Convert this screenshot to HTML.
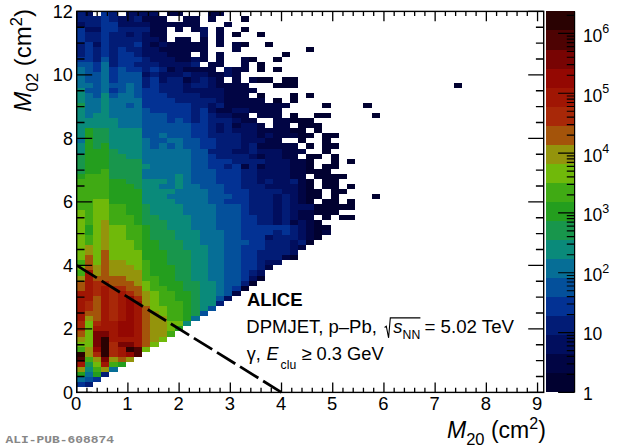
<!DOCTYPE html>
<html><head><meta charset="utf-8"><title>plot</title>
<style>
html,body{margin:0;padding:0;background:#fff;}
body{width:620px;height:448px;overflow:hidden;position:relative;font-family:"Liberation Sans",sans-serif;}
svg{position:absolute;left:0;top:0;}
text{font-family:"Liberation Sans",sans-serif;fill:#000;}
</style></head><body>
<svg width="620" height="448" viewBox="0 0 620 448">
<rect x="0" y="0" width="620" height="448" fill="#fff"/>
<g shape-rendering="crispEdges">
<rect x="76.70" y="382.24" width="8.19" height="5.08" fill="#033294"/>
<rect x="84.89" y="382.24" width="8.19" height="5.08" fill="#021c76"/>
<rect x="76.70" y="377.16" width="8.19" height="5.08" fill="#066e96"/>
<rect x="84.89" y="377.16" width="8.19" height="5.08" fill="#04509b"/>
<rect x="93.09" y="377.16" width="8.19" height="5.08" fill="#033294"/>
<rect x="76.70" y="372.08" width="8.19" height="5.08" fill="#249e1e"/>
<rect x="84.89" y="372.08" width="8.19" height="5.08" fill="#066e96"/>
<rect x="93.09" y="372.08" width="8.19" height="5.08" fill="#249e1e"/>
<rect x="101.28" y="372.08" width="8.19" height="5.08" fill="#021c76"/>
<rect x="76.70" y="367.00" width="8.19" height="5.08" fill="#94940c"/>
<rect x="84.89" y="367.00" width="8.19" height="5.08" fill="#0a8a7a"/>
<rect x="93.09" y="367.00" width="8.19" height="5.08" fill="#40aa14"/>
<rect x="101.28" y="367.00" width="8.19" height="5.08" fill="#94940c"/>
<rect x="109.47" y="367.00" width="8.19" height="5.08" fill="#066e96"/>
<rect x="76.70" y="361.92" width="8.19" height="5.08" fill="#a01604"/>
<rect x="84.89" y="361.92" width="8.19" height="5.08" fill="#18964c"/>
<rect x="93.09" y="361.92" width="8.19" height="5.08" fill="#70b90a"/>
<rect x="101.28" y="361.92" width="8.19" height="5.08" fill="#a01604"/>
<rect x="109.47" y="361.92" width="8.19" height="5.08" fill="#40aa14"/>
<rect x="117.66" y="361.92" width="8.19" height="5.08" fill="#249e1e"/>
<rect x="76.70" y="356.84" width="8.19" height="5.08" fill="#4e0303"/>
<rect x="84.89" y="356.84" width="8.19" height="5.08" fill="#40aa14"/>
<rect x="93.09" y="356.84" width="8.19" height="5.08" fill="#94940c"/>
<rect x="101.28" y="356.84" width="8.19" height="5.08" fill="#780403"/>
<rect x="109.47" y="356.84" width="8.19" height="5.08" fill="#94940c"/>
<rect x="117.66" y="356.84" width="8.19" height="5.08" fill="#a4540a"/>
<rect x="125.86" y="356.84" width="8.19" height="5.08" fill="#94940c"/>
<rect x="76.70" y="351.76" width="8.19" height="5.08" fill="#2a0202"/>
<rect x="84.89" y="351.76" width="8.19" height="5.08" fill="#94940c"/>
<rect x="93.09" y="351.76" width="8.19" height="5.08" fill="#a82808"/>
<rect x="101.28" y="351.76" width="8.19" height="5.08" fill="#2a0202"/>
<rect x="109.47" y="351.76" width="8.19" height="5.08" fill="#a82808"/>
<rect x="117.66" y="351.76" width="8.19" height="5.08" fill="#a01604"/>
<rect x="125.86" y="351.76" width="8.19" height="5.08" fill="#940802"/>
<rect x="134.05" y="351.76" width="8.19" height="5.08" fill="#4e0303"/>
<rect x="76.70" y="346.68" width="8.19" height="5.08" fill="#40aa14"/>
<rect x="84.89" y="346.68" width="8.19" height="5.08" fill="#94940c"/>
<rect x="93.09" y="346.68" width="8.19" height="5.08" fill="#940802"/>
<rect x="101.28" y="346.68" width="8.19" height="5.08" fill="#2a0202"/>
<rect x="109.47" y="346.68" width="8.19" height="5.08" fill="#a82808"/>
<rect x="117.66" y="346.68" width="8.19" height="5.08" fill="#a01604"/>
<rect x="125.86" y="346.68" width="8.19" height="5.08" fill="#2a0202"/>
<rect x="134.05" y="346.68" width="8.19" height="5.08" fill="#4e0303"/>
<rect x="142.24" y="346.68" width="8.19" height="5.08" fill="#70b90a"/>
<rect x="76.70" y="341.60" width="16.39" height="5.08" fill="#70b90a"/>
<rect x="93.09" y="341.60" width="8.19" height="5.08" fill="#780403"/>
<rect x="101.28" y="341.60" width="8.19" height="5.08" fill="#2a0202"/>
<rect x="109.47" y="341.60" width="8.19" height="5.08" fill="#a82808"/>
<rect x="117.66" y="341.60" width="16.39" height="5.08" fill="#780403"/>
<rect x="134.05" y="341.60" width="8.19" height="5.08" fill="#a01604"/>
<rect x="142.24" y="341.60" width="8.19" height="5.08" fill="#a4540a"/>
<rect x="150.44" y="341.60" width="8.19" height="5.08" fill="#70b90a"/>
<rect x="76.70" y="336.52" width="8.19" height="5.08" fill="#94940c"/>
<rect x="84.89" y="336.52" width="8.19" height="5.08" fill="#70b90a"/>
<rect x="93.09" y="336.52" width="8.19" height="5.08" fill="#780403"/>
<rect x="101.28" y="336.52" width="8.19" height="5.08" fill="#2a0202"/>
<rect x="109.47" y="336.52" width="32.77" height="5.08" fill="#a01604"/>
<rect x="142.24" y="336.52" width="8.19" height="5.08" fill="#a4540a"/>
<rect x="150.44" y="336.52" width="8.19" height="5.08" fill="#94940c"/>
<rect x="158.63" y="336.52" width="8.19" height="5.08" fill="#70b90a"/>
<rect x="76.70" y="331.44" width="8.19" height="5.08" fill="#a4540a"/>
<rect x="84.89" y="331.44" width="8.19" height="5.08" fill="#70b90a"/>
<rect x="93.09" y="331.44" width="16.39" height="5.08" fill="#780403"/>
<rect x="109.47" y="331.44" width="8.19" height="5.08" fill="#a01604"/>
<rect x="117.66" y="331.44" width="16.39" height="5.08" fill="#940802"/>
<rect x="134.05" y="331.44" width="8.19" height="5.08" fill="#a01604"/>
<rect x="142.24" y="331.44" width="8.19" height="5.08" fill="#a4540a"/>
<rect x="150.44" y="331.44" width="16.39" height="5.08" fill="#94940c"/>
<rect x="166.82" y="331.44" width="8.19" height="5.08" fill="#40aa14"/>
<rect x="76.70" y="326.36" width="8.19" height="5.08" fill="#a82808"/>
<rect x="84.89" y="326.36" width="8.19" height="5.08" fill="#70b90a"/>
<rect x="93.09" y="326.36" width="24.58" height="5.08" fill="#a01604"/>
<rect x="117.66" y="326.36" width="16.39" height="5.08" fill="#940802"/>
<rect x="134.05" y="326.36" width="8.19" height="5.08" fill="#a01604"/>
<rect x="142.24" y="326.36" width="8.19" height="5.08" fill="#a4540a"/>
<rect x="150.44" y="326.36" width="16.39" height="5.08" fill="#94940c"/>
<rect x="166.82" y="326.36" width="8.19" height="5.08" fill="#70b90a"/>
<rect x="175.02" y="326.36" width="8.19" height="5.08" fill="#249e1e"/>
<rect x="76.70" y="321.28" width="8.19" height="5.08" fill="#a82808"/>
<rect x="84.89" y="321.28" width="8.19" height="5.08" fill="#70b90a"/>
<rect x="93.09" y="321.28" width="8.19" height="5.08" fill="#a82808"/>
<rect x="101.28" y="321.28" width="16.39" height="5.08" fill="#a01604"/>
<rect x="117.66" y="321.28" width="16.39" height="5.08" fill="#940802"/>
<rect x="134.05" y="321.28" width="8.19" height="5.08" fill="#a01604"/>
<rect x="142.24" y="321.28" width="8.19" height="5.08" fill="#a4540a"/>
<rect x="150.44" y="321.28" width="16.39" height="5.08" fill="#94940c"/>
<rect x="166.82" y="321.28" width="16.39" height="5.08" fill="#70b90a"/>
<rect x="183.21" y="321.28" width="8.19" height="5.08" fill="#0a8a7a"/>
<rect x="76.70" y="316.20" width="8.19" height="5.08" fill="#a01604"/>
<rect x="84.89" y="316.20" width="8.19" height="5.08" fill="#94940c"/>
<rect x="93.09" y="316.20" width="8.19" height="5.08" fill="#a4540a"/>
<rect x="101.28" y="316.20" width="8.19" height="5.08" fill="#a01604"/>
<rect x="109.47" y="316.20" width="8.19" height="5.08" fill="#a82808"/>
<rect x="117.66" y="316.20" width="8.19" height="5.08" fill="#a01604"/>
<rect x="125.86" y="316.20" width="8.19" height="5.08" fill="#940802"/>
<rect x="134.05" y="316.20" width="8.19" height="5.08" fill="#a01604"/>
<rect x="142.24" y="316.20" width="8.19" height="5.08" fill="#a4540a"/>
<rect x="150.44" y="316.20" width="16.39" height="5.08" fill="#94940c"/>
<rect x="166.82" y="316.20" width="16.39" height="5.08" fill="#40aa14"/>
<rect x="183.21" y="316.20" width="8.19" height="5.08" fill="#249e1e"/>
<rect x="191.40" y="316.20" width="8.19" height="5.08" fill="#066e96"/>
<rect x="76.70" y="311.12" width="8.19" height="5.08" fill="#a01604"/>
<rect x="84.89" y="311.12" width="16.39" height="5.08" fill="#a4540a"/>
<rect x="101.28" y="311.12" width="8.19" height="5.08" fill="#a01604"/>
<rect x="109.47" y="311.12" width="8.19" height="5.08" fill="#a82808"/>
<rect x="117.66" y="311.12" width="8.19" height="5.08" fill="#a01604"/>
<rect x="125.86" y="311.12" width="8.19" height="5.08" fill="#940802"/>
<rect x="134.05" y="311.12" width="8.19" height="5.08" fill="#a01604"/>
<rect x="142.24" y="311.12" width="8.19" height="5.08" fill="#a4540a"/>
<rect x="150.44" y="311.12" width="8.19" height="5.08" fill="#94940c"/>
<rect x="158.63" y="311.12" width="8.19" height="5.08" fill="#70b90a"/>
<rect x="166.82" y="311.12" width="16.39" height="5.08" fill="#40aa14"/>
<rect x="183.21" y="311.12" width="8.19" height="5.08" fill="#249e1e"/>
<rect x="191.40" y="311.12" width="8.19" height="5.08" fill="#18964c"/>
<rect x="199.59" y="311.12" width="8.19" height="5.08" fill="#04509b"/>
<rect x="76.70" y="306.04" width="8.19" height="5.08" fill="#a01604"/>
<rect x="84.89" y="306.04" width="8.19" height="5.08" fill="#a82808"/>
<rect x="93.09" y="306.04" width="8.19" height="5.08" fill="#a4540a"/>
<rect x="101.28" y="306.04" width="8.19" height="5.08" fill="#a01604"/>
<rect x="109.47" y="306.04" width="8.19" height="5.08" fill="#a82808"/>
<rect x="117.66" y="306.04" width="8.19" height="5.08" fill="#a01604"/>
<rect x="125.86" y="306.04" width="8.19" height="5.08" fill="#940802"/>
<rect x="134.05" y="306.04" width="8.19" height="5.08" fill="#a01604"/>
<rect x="142.24" y="306.04" width="8.19" height="5.08" fill="#a4540a"/>
<rect x="150.44" y="306.04" width="16.39" height="5.08" fill="#70b90a"/>
<rect x="166.82" y="306.04" width="16.39" height="5.08" fill="#40aa14"/>
<rect x="183.21" y="306.04" width="8.19" height="5.08" fill="#249e1e"/>
<rect x="191.40" y="306.04" width="8.19" height="5.08" fill="#18964c"/>
<rect x="199.59" y="306.04" width="8.19" height="5.08" fill="#0a8a7a"/>
<rect x="207.79" y="306.04" width="8.19" height="5.08" fill="#04509b"/>
<rect x="76.70" y="300.96" width="8.19" height="5.08" fill="#a01604"/>
<rect x="84.89" y="300.96" width="8.19" height="5.08" fill="#a82808"/>
<rect x="93.09" y="300.96" width="8.19" height="5.08" fill="#a4540a"/>
<rect x="101.28" y="300.96" width="8.19" height="5.08" fill="#a01604"/>
<rect x="109.47" y="300.96" width="8.19" height="5.08" fill="#a82808"/>
<rect x="117.66" y="300.96" width="8.19" height="5.08" fill="#a01604"/>
<rect x="125.86" y="300.96" width="8.19" height="5.08" fill="#940802"/>
<rect x="134.05" y="300.96" width="8.19" height="5.08" fill="#a01604"/>
<rect x="142.24" y="300.96" width="8.19" height="5.08" fill="#94940c"/>
<rect x="150.44" y="300.96" width="8.19" height="5.08" fill="#70b90a"/>
<rect x="158.63" y="300.96" width="24.58" height="5.08" fill="#40aa14"/>
<rect x="183.21" y="300.96" width="8.19" height="5.08" fill="#249e1e"/>
<rect x="191.40" y="300.96" width="8.19" height="5.08" fill="#18964c"/>
<rect x="199.59" y="300.96" width="16.39" height="5.08" fill="#0a8a7a"/>
<rect x="215.98" y="300.96" width="8.19" height="5.08" fill="#021c76"/>
<rect x="76.70" y="295.88" width="16.39" height="5.08" fill="#a01604"/>
<rect x="93.09" y="295.88" width="8.19" height="5.08" fill="#a4540a"/>
<rect x="101.28" y="295.88" width="8.19" height="5.08" fill="#a01604"/>
<rect x="109.47" y="295.88" width="8.19" height="5.08" fill="#a82808"/>
<rect x="117.66" y="295.88" width="8.19" height="5.08" fill="#a01604"/>
<rect x="125.86" y="295.88" width="8.19" height="5.08" fill="#940802"/>
<rect x="134.05" y="295.88" width="8.19" height="5.08" fill="#a82808"/>
<rect x="142.24" y="295.88" width="8.19" height="5.08" fill="#94940c"/>
<rect x="150.44" y="295.88" width="8.19" height="5.08" fill="#70b90a"/>
<rect x="158.63" y="295.88" width="16.39" height="5.08" fill="#40aa14"/>
<rect x="175.02" y="295.88" width="16.39" height="5.08" fill="#249e1e"/>
<rect x="191.40" y="295.88" width="8.19" height="5.08" fill="#18964c"/>
<rect x="199.59" y="295.88" width="16.39" height="5.08" fill="#0a8a7a"/>
<rect x="215.98" y="295.88" width="8.19" height="5.08" fill="#04509b"/>
<rect x="224.17" y="295.88" width="8.19" height="5.08" fill="#010e5e"/>
<rect x="76.70" y="290.80" width="16.39" height="5.08" fill="#a01604"/>
<rect x="93.09" y="290.80" width="8.19" height="5.08" fill="#a82808"/>
<rect x="101.28" y="290.80" width="8.19" height="5.08" fill="#a01604"/>
<rect x="109.47" y="290.80" width="8.19" height="5.08" fill="#a82808"/>
<rect x="117.66" y="290.80" width="8.19" height="5.08" fill="#a01604"/>
<rect x="125.86" y="290.80" width="8.19" height="5.08" fill="#a82808"/>
<rect x="134.05" y="290.80" width="8.19" height="5.08" fill="#a4540a"/>
<rect x="142.24" y="290.80" width="8.19" height="5.08" fill="#94940c"/>
<rect x="150.44" y="290.80" width="8.19" height="5.08" fill="#70b90a"/>
<rect x="158.63" y="290.80" width="16.39" height="5.08" fill="#40aa14"/>
<rect x="175.02" y="290.80" width="16.39" height="5.08" fill="#249e1e"/>
<rect x="191.40" y="290.80" width="8.19" height="5.08" fill="#18964c"/>
<rect x="199.59" y="290.80" width="16.39" height="5.08" fill="#0a8a7a"/>
<rect x="215.98" y="290.80" width="8.19" height="5.08" fill="#066e96"/>
<rect x="224.17" y="290.80" width="8.19" height="5.08" fill="#04509b"/>
<rect x="232.37" y="290.80" width="8.19" height="5.08" fill="#010544"/>
<rect x="76.70" y="285.72" width="8.19" height="5.08" fill="#a4540a"/>
<rect x="84.89" y="285.72" width="8.19" height="5.08" fill="#a01604"/>
<rect x="93.09" y="285.72" width="8.19" height="5.08" fill="#a82808"/>
<rect x="101.28" y="285.72" width="8.19" height="5.08" fill="#a01604"/>
<rect x="109.47" y="285.72" width="16.39" height="5.08" fill="#a82808"/>
<rect x="125.86" y="285.72" width="16.39" height="5.08" fill="#a4540a"/>
<rect x="142.24" y="285.72" width="8.19" height="5.08" fill="#70b90a"/>
<rect x="150.44" y="285.72" width="16.39" height="5.08" fill="#40aa14"/>
<rect x="166.82" y="285.72" width="16.39" height="5.08" fill="#249e1e"/>
<rect x="183.21" y="285.72" width="16.39" height="5.08" fill="#18964c"/>
<rect x="199.59" y="285.72" width="16.39" height="5.08" fill="#0a8a7a"/>
<rect x="215.98" y="285.72" width="8.19" height="5.08" fill="#066e96"/>
<rect x="224.17" y="285.72" width="8.19" height="5.08" fill="#04509b"/>
<rect x="232.37" y="285.72" width="8.19" height="5.08" fill="#033294"/>
<rect x="240.56" y="285.72" width="8.19" height="5.08" fill="#010130"/>
<rect x="76.70" y="280.64" width="8.19" height="5.08" fill="#a4540a"/>
<rect x="84.89" y="280.64" width="8.19" height="5.08" fill="#a01604"/>
<rect x="93.09" y="280.64" width="16.39" height="5.08" fill="#a82808"/>
<rect x="109.47" y="280.64" width="24.58" height="5.08" fill="#a4540a"/>
<rect x="134.05" y="280.64" width="8.19" height="5.08" fill="#94940c"/>
<rect x="142.24" y="280.64" width="8.19" height="5.08" fill="#70b90a"/>
<rect x="150.44" y="280.64" width="8.19" height="5.08" fill="#40aa14"/>
<rect x="158.63" y="280.64" width="24.58" height="5.08" fill="#249e1e"/>
<rect x="183.21" y="280.64" width="16.39" height="5.08" fill="#18964c"/>
<rect x="199.59" y="280.64" width="16.39" height="5.08" fill="#0a8a7a"/>
<rect x="215.98" y="280.64" width="8.19" height="5.08" fill="#066e96"/>
<rect x="224.17" y="280.64" width="16.39" height="5.08" fill="#04509b"/>
<rect x="240.56" y="280.64" width="8.19" height="5.08" fill="#021c76"/>
<rect x="248.75" y="280.64" width="8.19" height="5.08" fill="#010130"/>
<rect x="76.70" y="275.56" width="8.19" height="5.08" fill="#94940c"/>
<rect x="84.89" y="275.56" width="8.19" height="5.08" fill="#a01604"/>
<rect x="93.09" y="275.56" width="32.77" height="5.08" fill="#a4540a"/>
<rect x="125.86" y="275.56" width="16.39" height="5.08" fill="#94940c"/>
<rect x="142.24" y="275.56" width="16.39" height="5.08" fill="#40aa14"/>
<rect x="158.63" y="275.56" width="16.39" height="5.08" fill="#249e1e"/>
<rect x="175.02" y="275.56" width="16.39" height="5.08" fill="#18964c"/>
<rect x="191.40" y="275.56" width="16.39" height="5.08" fill="#0a8a7a"/>
<rect x="207.79" y="275.56" width="16.39" height="5.08" fill="#066e96"/>
<rect x="224.17" y="275.56" width="16.39" height="5.08" fill="#04509b"/>
<rect x="240.56" y="275.56" width="8.19" height="5.08" fill="#033294"/>
<rect x="248.75" y="275.56" width="8.19" height="5.08" fill="#010e5e"/>
<rect x="256.95" y="275.56" width="8.19" height="5.08" fill="#010130"/>
<rect x="76.70" y="270.48" width="8.19" height="5.08" fill="#40aa14"/>
<rect x="84.89" y="270.48" width="8.19" height="5.08" fill="#a01604"/>
<rect x="93.09" y="270.48" width="8.19" height="5.08" fill="#94940c"/>
<rect x="101.28" y="270.48" width="8.19" height="5.08" fill="#a4540a"/>
<rect x="109.47" y="270.48" width="32.77" height="5.08" fill="#94940c"/>
<rect x="142.24" y="270.48" width="8.19" height="5.08" fill="#40aa14"/>
<rect x="150.44" y="270.48" width="24.58" height="5.08" fill="#249e1e"/>
<rect x="175.02" y="270.48" width="16.39" height="5.08" fill="#18964c"/>
<rect x="191.40" y="270.48" width="16.39" height="5.08" fill="#0a8a7a"/>
<rect x="207.79" y="270.48" width="16.39" height="5.08" fill="#066e96"/>
<rect x="224.17" y="270.48" width="16.39" height="5.08" fill="#04509b"/>
<rect x="240.56" y="270.48" width="8.19" height="5.08" fill="#033294"/>
<rect x="248.75" y="270.48" width="8.19" height="5.08" fill="#021c76"/>
<rect x="256.95" y="270.48" width="8.19" height="5.08" fill="#010e5e"/>
<rect x="76.70" y="265.40" width="8.19" height="5.08" fill="#70b90a"/>
<rect x="84.89" y="265.40" width="8.19" height="5.08" fill="#a4540a"/>
<rect x="93.09" y="265.40" width="8.19" height="5.08" fill="#94940c"/>
<rect x="101.28" y="265.40" width="8.19" height="5.08" fill="#a4540a"/>
<rect x="109.47" y="265.40" width="24.58" height="5.08" fill="#94940c"/>
<rect x="134.05" y="265.40" width="8.19" height="5.08" fill="#70b90a"/>
<rect x="142.24" y="265.40" width="8.19" height="5.08" fill="#40aa14"/>
<rect x="150.44" y="265.40" width="24.58" height="5.08" fill="#249e1e"/>
<rect x="175.02" y="265.40" width="16.39" height="5.08" fill="#18964c"/>
<rect x="191.40" y="265.40" width="16.39" height="5.08" fill="#0a8a7a"/>
<rect x="207.79" y="265.40" width="16.39" height="5.08" fill="#066e96"/>
<rect x="224.17" y="265.40" width="16.39" height="5.08" fill="#04509b"/>
<rect x="240.56" y="265.40" width="16.39" height="5.08" fill="#033294"/>
<rect x="256.95" y="265.40" width="8.19" height="5.08" fill="#021c76"/>
<rect x="265.14" y="265.40" width="8.19" height="5.08" fill="#010544"/>
<rect x="76.70" y="260.32" width="8.19" height="5.08" fill="#40aa14"/>
<rect x="84.89" y="260.32" width="8.19" height="5.08" fill="#a4540a"/>
<rect x="93.09" y="260.32" width="8.19" height="5.08" fill="#70b90a"/>
<rect x="101.28" y="260.32" width="8.19" height="5.08" fill="#a4540a"/>
<rect x="109.47" y="260.32" width="16.39" height="5.08" fill="#94940c"/>
<rect x="125.86" y="260.32" width="16.39" height="5.08" fill="#70b90a"/>
<rect x="142.24" y="260.32" width="8.19" height="5.08" fill="#40aa14"/>
<rect x="150.44" y="260.32" width="16.39" height="5.08" fill="#249e1e"/>
<rect x="166.82" y="260.32" width="24.58" height="5.08" fill="#18964c"/>
<rect x="191.40" y="260.32" width="16.39" height="5.08" fill="#0a8a7a"/>
<rect x="207.79" y="260.32" width="16.39" height="5.08" fill="#066e96"/>
<rect x="224.17" y="260.32" width="16.39" height="5.08" fill="#04509b"/>
<rect x="240.56" y="260.32" width="16.39" height="5.08" fill="#033294"/>
<rect x="256.95" y="260.32" width="8.19" height="5.08" fill="#021c76"/>
<rect x="265.14" y="260.32" width="16.39" height="5.08" fill="#010e5e"/>
<rect x="76.70" y="255.24" width="8.19" height="5.08" fill="#70b90a"/>
<rect x="84.89" y="255.24" width="8.19" height="5.08" fill="#a4540a"/>
<rect x="93.09" y="255.24" width="8.19" height="5.08" fill="#70b90a"/>
<rect x="101.28" y="255.24" width="8.19" height="5.08" fill="#a4540a"/>
<rect x="109.47" y="255.24" width="32.77" height="5.08" fill="#70b90a"/>
<rect x="142.24" y="255.24" width="24.58" height="5.08" fill="#249e1e"/>
<rect x="166.82" y="255.24" width="24.58" height="5.08" fill="#18964c"/>
<rect x="191.40" y="255.24" width="16.39" height="5.08" fill="#0a8a7a"/>
<rect x="207.79" y="255.24" width="16.39" height="5.08" fill="#066e96"/>
<rect x="224.17" y="255.24" width="16.39" height="5.08" fill="#04509b"/>
<rect x="240.56" y="255.24" width="16.39" height="5.08" fill="#033294"/>
<rect x="256.95" y="255.24" width="24.58" height="5.08" fill="#021c76"/>
<rect x="281.52" y="255.24" width="8.19" height="5.08" fill="#010544"/>
<rect x="289.72" y="255.24" width="8.19" height="5.08" fill="#010130"/>
<rect x="76.70" y="250.16" width="8.19" height="5.08" fill="#70b90a"/>
<rect x="84.89" y="250.16" width="8.19" height="5.08" fill="#94940c"/>
<rect x="93.09" y="250.16" width="8.19" height="5.08" fill="#70b90a"/>
<rect x="101.28" y="250.16" width="8.19" height="5.08" fill="#a4540a"/>
<rect x="109.47" y="250.16" width="32.77" height="5.08" fill="#70b90a"/>
<rect x="142.24" y="250.16" width="24.58" height="5.08" fill="#249e1e"/>
<rect x="166.82" y="250.16" width="24.58" height="5.08" fill="#18964c"/>
<rect x="191.40" y="250.16" width="16.39" height="5.08" fill="#0a8a7a"/>
<rect x="207.79" y="250.16" width="16.39" height="5.08" fill="#066e96"/>
<rect x="224.17" y="250.16" width="16.39" height="5.08" fill="#04509b"/>
<rect x="240.56" y="250.16" width="16.39" height="5.08" fill="#033294"/>
<rect x="256.95" y="250.16" width="32.77" height="5.08" fill="#021c76"/>
<rect x="289.72" y="250.16" width="8.19" height="5.08" fill="#010e5e"/>
<rect x="76.70" y="245.08" width="8.19" height="5.08" fill="#70b90a"/>
<rect x="84.89" y="245.08" width="8.19" height="5.08" fill="#94940c"/>
<rect x="93.09" y="245.08" width="8.19" height="5.08" fill="#70b90a"/>
<rect x="101.28" y="245.08" width="8.19" height="5.08" fill="#94940c"/>
<rect x="109.47" y="245.08" width="24.58" height="5.08" fill="#70b90a"/>
<rect x="134.05" y="245.08" width="8.19" height="5.08" fill="#40aa14"/>
<rect x="142.24" y="245.08" width="16.39" height="5.08" fill="#249e1e"/>
<rect x="158.63" y="245.08" width="24.58" height="5.08" fill="#18964c"/>
<rect x="183.21" y="245.08" width="24.58" height="5.08" fill="#0a8a7a"/>
<rect x="207.79" y="245.08" width="16.39" height="5.08" fill="#066e96"/>
<rect x="224.17" y="245.08" width="16.39" height="5.08" fill="#04509b"/>
<rect x="240.56" y="245.08" width="24.58" height="5.08" fill="#033294"/>
<rect x="265.14" y="245.08" width="24.58" height="5.08" fill="#021c76"/>
<rect x="289.72" y="245.08" width="8.19" height="5.08" fill="#010e5e"/>
<rect x="297.91" y="245.08" width="8.19" height="5.08" fill="#010544"/>
<rect x="76.70" y="240.00" width="8.19" height="5.08" fill="#70b90a"/>
<rect x="84.89" y="240.00" width="8.19" height="5.08" fill="#40aa14"/>
<rect x="93.09" y="240.00" width="8.19" height="5.08" fill="#70b90a"/>
<rect x="101.28" y="240.00" width="8.19" height="5.08" fill="#94940c"/>
<rect x="109.47" y="240.00" width="24.58" height="5.08" fill="#70b90a"/>
<rect x="134.05" y="240.00" width="8.19" height="5.08" fill="#40aa14"/>
<rect x="142.24" y="240.00" width="16.39" height="5.08" fill="#249e1e"/>
<rect x="158.63" y="240.00" width="24.58" height="5.08" fill="#18964c"/>
<rect x="183.21" y="240.00" width="16.39" height="5.08" fill="#0a8a7a"/>
<rect x="199.59" y="240.00" width="24.58" height="5.08" fill="#066e96"/>
<rect x="224.17" y="240.00" width="24.58" height="5.08" fill="#04509b"/>
<rect x="248.75" y="240.00" width="16.39" height="5.08" fill="#033294"/>
<rect x="265.14" y="240.00" width="24.58" height="5.08" fill="#021c76"/>
<rect x="289.72" y="240.00" width="8.19" height="5.08" fill="#010e5e"/>
<rect x="297.91" y="240.00" width="8.19" height="5.08" fill="#021c76"/>
<rect x="306.10" y="240.00" width="8.19" height="5.08" fill="#010130"/>
<rect x="76.70" y="234.92" width="8.19" height="5.08" fill="#70b90a"/>
<rect x="84.89" y="234.92" width="8.19" height="5.08" fill="#40aa14"/>
<rect x="93.09" y="234.92" width="8.19" height="5.08" fill="#70b90a"/>
<rect x="101.28" y="234.92" width="8.19" height="5.08" fill="#94940c"/>
<rect x="109.47" y="234.92" width="16.39" height="5.08" fill="#70b90a"/>
<rect x="125.86" y="234.92" width="16.39" height="5.08" fill="#40aa14"/>
<rect x="142.24" y="234.92" width="8.19" height="5.08" fill="#249e1e"/>
<rect x="150.44" y="234.92" width="24.58" height="5.08" fill="#18964c"/>
<rect x="175.02" y="234.92" width="24.58" height="5.08" fill="#0a8a7a"/>
<rect x="199.59" y="234.92" width="24.58" height="5.08" fill="#066e96"/>
<rect x="224.17" y="234.92" width="16.39" height="5.08" fill="#04509b"/>
<rect x="240.56" y="234.92" width="24.58" height="5.08" fill="#033294"/>
<rect x="265.14" y="234.92" width="8.19" height="5.08" fill="#010e5e"/>
<rect x="273.33" y="234.92" width="24.58" height="5.08" fill="#021c76"/>
<rect x="297.91" y="234.92" width="8.19" height="5.08" fill="#010e5e"/>
<rect x="306.10" y="234.92" width="8.19" height="5.08" fill="#010544"/>
<rect x="314.30" y="234.92" width="8.19" height="5.08" fill="#010130"/>
<rect x="76.70" y="229.84" width="8.19" height="5.08" fill="#70b90a"/>
<rect x="84.89" y="229.84" width="8.19" height="5.08" fill="#249e1e"/>
<rect x="93.09" y="229.84" width="8.19" height="5.08" fill="#70b90a"/>
<rect x="101.28" y="229.84" width="8.19" height="5.08" fill="#94940c"/>
<rect x="109.47" y="229.84" width="16.39" height="5.08" fill="#70b90a"/>
<rect x="125.86" y="229.84" width="16.39" height="5.08" fill="#40aa14"/>
<rect x="142.24" y="229.84" width="8.19" height="5.08" fill="#249e1e"/>
<rect x="150.44" y="229.84" width="24.58" height="5.08" fill="#18964c"/>
<rect x="175.02" y="229.84" width="24.58" height="5.08" fill="#0a8a7a"/>
<rect x="199.59" y="229.84" width="24.58" height="5.08" fill="#066e96"/>
<rect x="224.17" y="229.84" width="16.39" height="5.08" fill="#04509b"/>
<rect x="240.56" y="229.84" width="32.77" height="5.08" fill="#033294"/>
<rect x="273.33" y="229.84" width="8.19" height="5.08" fill="#021c76"/>
<rect x="281.52" y="229.84" width="8.19" height="5.08" fill="#033294"/>
<rect x="289.72" y="229.84" width="8.19" height="5.08" fill="#021c76"/>
<rect x="297.91" y="229.84" width="8.19" height="5.08" fill="#010e5e"/>
<rect x="306.10" y="229.84" width="8.19" height="5.08" fill="#010544"/>
<rect x="314.30" y="229.84" width="8.19" height="5.08" fill="#010130"/>
<rect x="322.49" y="229.84" width="8.19" height="5.08" fill="#010544"/>
<rect x="76.70" y="224.76" width="8.19" height="5.08" fill="#70b90a"/>
<rect x="84.89" y="224.76" width="8.19" height="5.08" fill="#249e1e"/>
<rect x="93.09" y="224.76" width="8.19" height="5.08" fill="#70b90a"/>
<rect x="101.28" y="224.76" width="8.19" height="5.08" fill="#94940c"/>
<rect x="109.47" y="224.76" width="16.39" height="5.08" fill="#70b90a"/>
<rect x="125.86" y="224.76" width="16.39" height="5.08" fill="#40aa14"/>
<rect x="142.24" y="224.76" width="8.19" height="5.08" fill="#249e1e"/>
<rect x="150.44" y="224.76" width="16.39" height="5.08" fill="#18964c"/>
<rect x="166.82" y="224.76" width="24.58" height="5.08" fill="#0a8a7a"/>
<rect x="191.40" y="224.76" width="24.58" height="5.08" fill="#066e96"/>
<rect x="215.98" y="224.76" width="24.58" height="5.08" fill="#04509b"/>
<rect x="240.56" y="224.76" width="49.16" height="5.08" fill="#033294"/>
<rect x="289.72" y="224.76" width="8.19" height="5.08" fill="#021c76"/>
<rect x="297.91" y="224.76" width="8.19" height="5.08" fill="#010e5e"/>
<rect x="306.10" y="224.76" width="8.19" height="5.08" fill="#010544"/>
<rect x="314.30" y="224.76" width="16.39" height="5.08" fill="#010130"/>
<rect x="76.70" y="219.68" width="8.19" height="5.08" fill="#70b90a"/>
<rect x="84.89" y="219.68" width="8.19" height="5.08" fill="#40aa14"/>
<rect x="93.09" y="219.68" width="8.19" height="5.08" fill="#70b90a"/>
<rect x="101.28" y="219.68" width="8.19" height="5.08" fill="#94940c"/>
<rect x="109.47" y="219.68" width="24.58" height="5.08" fill="#40aa14"/>
<rect x="134.05" y="219.68" width="8.19" height="5.08" fill="#249e1e"/>
<rect x="142.24" y="219.68" width="24.58" height="5.08" fill="#18964c"/>
<rect x="166.82" y="219.68" width="24.58" height="5.08" fill="#0a8a7a"/>
<rect x="191.40" y="219.68" width="24.58" height="5.08" fill="#066e96"/>
<rect x="215.98" y="219.68" width="24.58" height="5.08" fill="#04509b"/>
<rect x="240.56" y="219.68" width="16.39" height="5.08" fill="#033294"/>
<rect x="256.95" y="219.68" width="16.39" height="5.08" fill="#021c76"/>
<rect x="273.33" y="219.68" width="8.19" height="5.08" fill="#010e5e"/>
<rect x="281.52" y="219.68" width="8.19" height="5.08" fill="#021c76"/>
<rect x="289.72" y="219.68" width="8.19" height="5.08" fill="#010544"/>
<rect x="297.91" y="219.68" width="8.19" height="5.08" fill="#010e5e"/>
<rect x="306.10" y="219.68" width="8.19" height="5.08" fill="#010544"/>
<rect x="314.30" y="219.68" width="8.19" height="5.08" fill="#010130"/>
<rect x="76.70" y="214.60" width="8.19" height="5.08" fill="#70b90a"/>
<rect x="84.89" y="214.60" width="8.19" height="5.08" fill="#40aa14"/>
<rect x="93.09" y="214.60" width="16.39" height="5.08" fill="#70b90a"/>
<rect x="109.47" y="214.60" width="24.58" height="5.08" fill="#40aa14"/>
<rect x="134.05" y="214.60" width="8.19" height="5.08" fill="#249e1e"/>
<rect x="142.24" y="214.60" width="16.39" height="5.08" fill="#18964c"/>
<rect x="158.63" y="214.60" width="32.77" height="5.08" fill="#0a8a7a"/>
<rect x="191.40" y="214.60" width="24.58" height="5.08" fill="#066e96"/>
<rect x="215.98" y="214.60" width="24.58" height="5.08" fill="#04509b"/>
<rect x="240.56" y="214.60" width="16.39" height="5.08" fill="#033294"/>
<rect x="256.95" y="214.60" width="16.39" height="5.08" fill="#021c76"/>
<rect x="273.33" y="214.60" width="8.19" height="5.08" fill="#010e5e"/>
<rect x="281.52" y="214.60" width="8.19" height="5.08" fill="#021c76"/>
<rect x="289.72" y="214.60" width="8.19" height="5.08" fill="#010e5e"/>
<rect x="297.91" y="214.60" width="16.39" height="5.08" fill="#010544"/>
<rect x="322.49" y="214.60" width="8.19" height="5.08" fill="#010130"/>
<rect x="338.88" y="214.60" width="16.39" height="5.08" fill="#010130"/>
<rect x="76.70" y="209.52" width="8.19" height="5.08" fill="#70b90a"/>
<rect x="84.89" y="209.52" width="8.19" height="5.08" fill="#40aa14"/>
<rect x="93.09" y="209.52" width="16.39" height="5.08" fill="#70b90a"/>
<rect x="109.47" y="209.52" width="16.39" height="5.08" fill="#40aa14"/>
<rect x="125.86" y="209.52" width="16.39" height="5.08" fill="#249e1e"/>
<rect x="142.24" y="209.52" width="8.19" height="5.08" fill="#18964c"/>
<rect x="150.44" y="209.52" width="32.77" height="5.08" fill="#0a8a7a"/>
<rect x="183.21" y="209.52" width="32.77" height="5.08" fill="#066e96"/>
<rect x="215.98" y="209.52" width="24.58" height="5.08" fill="#04509b"/>
<rect x="240.56" y="209.52" width="8.19" height="5.08" fill="#033294"/>
<rect x="248.75" y="209.52" width="24.58" height="5.08" fill="#021c76"/>
<rect x="273.33" y="209.52" width="8.19" height="5.08" fill="#010e5e"/>
<rect x="281.52" y="209.52" width="8.19" height="5.08" fill="#021c76"/>
<rect x="289.72" y="209.52" width="8.19" height="5.08" fill="#010e5e"/>
<rect x="297.91" y="209.52" width="16.39" height="5.08" fill="#010544"/>
<rect x="314.30" y="209.52" width="24.58" height="5.08" fill="#010130"/>
<rect x="76.70" y="204.44" width="16.39" height="5.08" fill="#40aa14"/>
<rect x="93.09" y="204.44" width="16.39" height="5.08" fill="#70b90a"/>
<rect x="109.47" y="204.44" width="16.39" height="5.08" fill="#40aa14"/>
<rect x="125.86" y="204.44" width="16.39" height="5.08" fill="#249e1e"/>
<rect x="142.24" y="204.44" width="8.19" height="5.08" fill="#18964c"/>
<rect x="150.44" y="204.44" width="32.77" height="5.08" fill="#0a8a7a"/>
<rect x="183.21" y="204.44" width="32.77" height="5.08" fill="#066e96"/>
<rect x="215.98" y="204.44" width="24.58" height="5.08" fill="#04509b"/>
<rect x="240.56" y="204.44" width="8.19" height="5.08" fill="#033294"/>
<rect x="248.75" y="204.44" width="24.58" height="5.08" fill="#021c76"/>
<rect x="273.33" y="204.44" width="8.19" height="5.08" fill="#010e5e"/>
<rect x="281.52" y="204.44" width="8.19" height="5.08" fill="#021c76"/>
<rect x="289.72" y="204.44" width="24.58" height="5.08" fill="#010e5e"/>
<rect x="314.30" y="204.44" width="40.96" height="5.08" fill="#010130"/>
<rect x="76.70" y="199.36" width="16.39" height="5.08" fill="#40aa14"/>
<rect x="93.09" y="199.36" width="16.39" height="5.08" fill="#70b90a"/>
<rect x="109.47" y="199.36" width="32.77" height="5.08" fill="#249e1e"/>
<rect x="142.24" y="199.36" width="32.77" height="5.08" fill="#0a8a7a"/>
<rect x="175.02" y="199.36" width="32.77" height="5.08" fill="#066e96"/>
<rect x="207.79" y="199.36" width="16.39" height="5.08" fill="#04509b"/>
<rect x="224.17" y="199.36" width="24.58" height="5.08" fill="#033294"/>
<rect x="248.75" y="199.36" width="24.58" height="5.08" fill="#021c76"/>
<rect x="273.33" y="199.36" width="8.19" height="5.08" fill="#010e5e"/>
<rect x="281.52" y="199.36" width="8.19" height="5.08" fill="#021c76"/>
<rect x="289.72" y="199.36" width="8.19" height="5.08" fill="#010e5e"/>
<rect x="297.91" y="199.36" width="8.19" height="5.08" fill="#010544"/>
<rect x="306.10" y="199.36" width="8.19" height="5.08" fill="#010130"/>
<rect x="322.49" y="199.36" width="16.39" height="5.08" fill="#010130"/>
<rect x="347.07" y="199.36" width="8.19" height="5.08" fill="#010130"/>
<rect x="76.70" y="194.28" width="32.77" height="5.08" fill="#40aa14"/>
<rect x="109.47" y="194.28" width="32.77" height="5.08" fill="#249e1e"/>
<rect x="142.24" y="194.28" width="24.58" height="5.08" fill="#0a8a7a"/>
<rect x="166.82" y="194.28" width="40.96" height="5.08" fill="#066e96"/>
<rect x="207.79" y="194.28" width="24.58" height="5.08" fill="#04509b"/>
<rect x="232.37" y="194.28" width="16.39" height="5.08" fill="#033294"/>
<rect x="248.75" y="194.28" width="24.58" height="5.08" fill="#021c76"/>
<rect x="273.33" y="194.28" width="8.19" height="5.08" fill="#010e5e"/>
<rect x="281.52" y="194.28" width="8.19" height="5.08" fill="#021c76"/>
<rect x="289.72" y="194.28" width="8.19" height="5.08" fill="#010e5e"/>
<rect x="297.91" y="194.28" width="8.19" height="5.08" fill="#010544"/>
<rect x="306.10" y="194.28" width="16.39" height="5.08" fill="#010130"/>
<rect x="330.68" y="194.28" width="8.19" height="5.08" fill="#010130"/>
<rect x="371.65" y="194.28" width="8.19" height="5.08" fill="#010130"/>
<rect x="76.70" y="189.20" width="32.77" height="5.08" fill="#40aa14"/>
<rect x="109.47" y="189.20" width="32.77" height="5.08" fill="#249e1e"/>
<rect x="142.24" y="189.20" width="32.77" height="5.08" fill="#0a8a7a"/>
<rect x="175.02" y="189.20" width="32.77" height="5.08" fill="#066e96"/>
<rect x="207.79" y="189.20" width="16.39" height="5.08" fill="#04509b"/>
<rect x="224.17" y="189.20" width="24.58" height="5.08" fill="#033294"/>
<rect x="248.75" y="189.20" width="32.77" height="5.08" fill="#021c76"/>
<rect x="281.52" y="189.20" width="16.39" height="5.08" fill="#010e5e"/>
<rect x="297.91" y="189.20" width="8.19" height="5.08" fill="#010544"/>
<rect x="306.10" y="189.20" width="16.39" height="5.08" fill="#010130"/>
<rect x="330.68" y="189.20" width="16.39" height="5.08" fill="#010130"/>
<rect x="76.70" y="184.12" width="32.77" height="5.08" fill="#40aa14"/>
<rect x="109.47" y="184.12" width="24.58" height="5.08" fill="#249e1e"/>
<rect x="134.05" y="184.12" width="8.19" height="5.08" fill="#18964c"/>
<rect x="142.24" y="184.12" width="16.39" height="5.08" fill="#0a8a7a"/>
<rect x="158.63" y="184.12" width="16.39" height="5.08" fill="#066e96"/>
<rect x="175.02" y="184.12" width="8.19" height="5.08" fill="#0a8a7a"/>
<rect x="183.21" y="184.12" width="16.39" height="5.08" fill="#066e96"/>
<rect x="199.59" y="184.12" width="24.58" height="5.08" fill="#04509b"/>
<rect x="224.17" y="184.12" width="16.39" height="5.08" fill="#033294"/>
<rect x="240.56" y="184.12" width="24.58" height="5.08" fill="#021c76"/>
<rect x="265.14" y="184.12" width="32.77" height="5.08" fill="#010e5e"/>
<rect x="297.91" y="184.12" width="8.19" height="5.08" fill="#010544"/>
<rect x="306.10" y="184.12" width="8.19" height="5.08" fill="#010130"/>
<rect x="322.49" y="184.12" width="16.39" height="5.08" fill="#010130"/>
<rect x="347.07" y="184.12" width="8.19" height="5.08" fill="#010130"/>
<rect x="76.70" y="179.04" width="32.77" height="5.08" fill="#40aa14"/>
<rect x="109.47" y="179.04" width="16.39" height="5.08" fill="#249e1e"/>
<rect x="125.86" y="179.04" width="16.39" height="5.08" fill="#18964c"/>
<rect x="142.24" y="179.04" width="24.58" height="5.08" fill="#0a8a7a"/>
<rect x="166.82" y="179.04" width="8.19" height="5.08" fill="#066e96"/>
<rect x="175.02" y="179.04" width="8.19" height="5.08" fill="#0a8a7a"/>
<rect x="183.21" y="179.04" width="8.19" height="5.08" fill="#066e96"/>
<rect x="191.40" y="179.04" width="24.58" height="5.08" fill="#04509b"/>
<rect x="215.98" y="179.04" width="24.58" height="5.08" fill="#033294"/>
<rect x="240.56" y="179.04" width="16.39" height="5.08" fill="#021c76"/>
<rect x="256.95" y="179.04" width="8.19" height="5.08" fill="#010e5e"/>
<rect x="265.14" y="179.04" width="8.19" height="5.08" fill="#021c76"/>
<rect x="273.33" y="179.04" width="16.39" height="5.08" fill="#010e5e"/>
<rect x="289.72" y="179.04" width="8.19" height="5.08" fill="#021c76"/>
<rect x="297.91" y="179.04" width="8.19" height="5.08" fill="#010544"/>
<rect x="306.10" y="179.04" width="8.19" height="5.08" fill="#010130"/>
<rect x="322.49" y="179.04" width="16.39" height="5.08" fill="#010130"/>
<rect x="76.70" y="173.96" width="8.19" height="5.08" fill="#249e1e"/>
<rect x="84.89" y="173.96" width="24.58" height="5.08" fill="#40aa14"/>
<rect x="109.47" y="173.96" width="32.77" height="5.08" fill="#18964c"/>
<rect x="142.24" y="173.96" width="32.77" height="5.08" fill="#066e96"/>
<rect x="175.02" y="173.96" width="8.19" height="5.08" fill="#0a8a7a"/>
<rect x="183.21" y="173.96" width="8.19" height="5.08" fill="#066e96"/>
<rect x="191.40" y="173.96" width="24.58" height="5.08" fill="#04509b"/>
<rect x="215.98" y="173.96" width="24.58" height="5.08" fill="#033294"/>
<rect x="240.56" y="173.96" width="16.39" height="5.08" fill="#021c76"/>
<rect x="256.95" y="173.96" width="32.77" height="5.08" fill="#010e5e"/>
<rect x="289.72" y="173.96" width="16.39" height="5.08" fill="#010544"/>
<rect x="314.30" y="173.96" width="32.77" height="5.08" fill="#010130"/>
<rect x="76.70" y="168.88" width="8.19" height="5.08" fill="#18964c"/>
<rect x="84.89" y="168.88" width="16.39" height="5.08" fill="#249e1e"/>
<rect x="101.28" y="168.88" width="8.19" height="5.08" fill="#40aa14"/>
<rect x="109.47" y="168.88" width="32.77" height="5.08" fill="#18964c"/>
<rect x="142.24" y="168.88" width="49.16" height="5.08" fill="#066e96"/>
<rect x="191.40" y="168.88" width="24.58" height="5.08" fill="#04509b"/>
<rect x="215.98" y="168.88" width="24.58" height="5.08" fill="#033294"/>
<rect x="240.56" y="168.88" width="16.39" height="5.08" fill="#021c76"/>
<rect x="256.95" y="168.88" width="32.77" height="5.08" fill="#010e5e"/>
<rect x="289.72" y="168.88" width="16.39" height="5.08" fill="#010544"/>
<rect x="306.10" y="168.88" width="24.58" height="5.08" fill="#010130"/>
<rect x="76.70" y="163.80" width="8.19" height="5.08" fill="#18964c"/>
<rect x="84.89" y="163.80" width="24.58" height="5.08" fill="#249e1e"/>
<rect x="109.47" y="163.80" width="32.77" height="5.08" fill="#18964c"/>
<rect x="142.24" y="163.80" width="8.19" height="5.08" fill="#0a8a7a"/>
<rect x="150.44" y="163.80" width="40.96" height="5.08" fill="#066e96"/>
<rect x="191.40" y="163.80" width="16.39" height="5.08" fill="#04509b"/>
<rect x="207.79" y="163.80" width="16.39" height="5.08" fill="#033294"/>
<rect x="224.17" y="163.80" width="8.19" height="5.08" fill="#021c76"/>
<rect x="232.37" y="163.80" width="8.19" height="5.08" fill="#033294"/>
<rect x="240.56" y="163.80" width="8.19" height="5.08" fill="#010544"/>
<rect x="248.75" y="163.80" width="8.19" height="5.08" fill="#021c76"/>
<rect x="256.95" y="163.80" width="8.19" height="5.08" fill="#010544"/>
<rect x="265.14" y="163.80" width="24.58" height="5.08" fill="#010e5e"/>
<rect x="289.72" y="163.80" width="16.39" height="5.08" fill="#010544"/>
<rect x="306.10" y="163.80" width="8.19" height="5.08" fill="#010130"/>
<rect x="322.49" y="163.80" width="16.39" height="5.08" fill="#010130"/>
<rect x="76.70" y="158.72" width="8.19" height="5.08" fill="#18964c"/>
<rect x="84.89" y="158.72" width="24.58" height="5.08" fill="#249e1e"/>
<rect x="109.47" y="158.72" width="32.77" height="5.08" fill="#18964c"/>
<rect x="142.24" y="158.72" width="49.16" height="5.08" fill="#066e96"/>
<rect x="191.40" y="158.72" width="16.39" height="5.08" fill="#04509b"/>
<rect x="207.79" y="158.72" width="24.58" height="5.08" fill="#033294"/>
<rect x="232.37" y="158.72" width="32.77" height="5.08" fill="#021c76"/>
<rect x="265.14" y="158.72" width="24.58" height="5.08" fill="#010e5e"/>
<rect x="289.72" y="158.72" width="16.39" height="5.08" fill="#010544"/>
<rect x="306.10" y="158.72" width="8.19" height="5.08" fill="#010130"/>
<rect x="330.68" y="158.72" width="8.19" height="5.08" fill="#010130"/>
<rect x="347.07" y="158.72" width="8.19" height="5.08" fill="#010130"/>
<rect x="76.70" y="153.64" width="8.19" height="5.08" fill="#18964c"/>
<rect x="84.89" y="153.64" width="24.58" height="5.08" fill="#249e1e"/>
<rect x="109.47" y="153.64" width="16.39" height="5.08" fill="#18964c"/>
<rect x="125.86" y="153.64" width="16.39" height="5.08" fill="#0a8a7a"/>
<rect x="142.24" y="153.64" width="49.16" height="5.08" fill="#066e96"/>
<rect x="191.40" y="153.64" width="16.39" height="5.08" fill="#04509b"/>
<rect x="207.79" y="153.64" width="8.19" height="5.08" fill="#033294"/>
<rect x="215.98" y="153.64" width="32.77" height="5.08" fill="#021c76"/>
<rect x="248.75" y="153.64" width="8.19" height="5.08" fill="#010e5e"/>
<rect x="256.95" y="153.64" width="8.19" height="5.08" fill="#010544"/>
<rect x="265.14" y="153.64" width="16.39" height="5.08" fill="#010e5e"/>
<rect x="281.52" y="153.64" width="16.39" height="5.08" fill="#010544"/>
<rect x="306.10" y="153.64" width="16.39" height="5.08" fill="#010130"/>
<rect x="330.68" y="153.64" width="8.19" height="5.08" fill="#010130"/>
<rect x="76.70" y="148.56" width="8.19" height="5.08" fill="#0a8a7a"/>
<rect x="84.89" y="148.56" width="24.58" height="5.08" fill="#249e1e"/>
<rect x="109.47" y="148.56" width="8.19" height="5.08" fill="#18964c"/>
<rect x="117.66" y="148.56" width="24.58" height="5.08" fill="#0a8a7a"/>
<rect x="142.24" y="148.56" width="49.16" height="5.08" fill="#066e96"/>
<rect x="191.40" y="148.56" width="16.39" height="5.08" fill="#04509b"/>
<rect x="207.79" y="148.56" width="24.58" height="5.08" fill="#021c76"/>
<rect x="232.37" y="148.56" width="16.39" height="5.08" fill="#010e5e"/>
<rect x="248.75" y="148.56" width="8.19" height="5.08" fill="#021c76"/>
<rect x="256.95" y="148.56" width="24.58" height="5.08" fill="#010e5e"/>
<rect x="281.52" y="148.56" width="24.58" height="5.08" fill="#010544"/>
<rect x="322.49" y="148.56" width="8.19" height="5.08" fill="#010130"/>
<rect x="76.70" y="143.48" width="8.19" height="5.08" fill="#0a8a7a"/>
<rect x="84.89" y="143.48" width="8.19" height="5.08" fill="#249e1e"/>
<rect x="93.09" y="143.48" width="8.19" height="5.08" fill="#18964c"/>
<rect x="101.28" y="143.48" width="8.19" height="5.08" fill="#249e1e"/>
<rect x="109.47" y="143.48" width="32.77" height="5.08" fill="#0a8a7a"/>
<rect x="142.24" y="143.48" width="8.19" height="5.08" fill="#066e96"/>
<rect x="150.44" y="143.48" width="8.19" height="5.08" fill="#04509b"/>
<rect x="158.63" y="143.48" width="8.19" height="5.08" fill="#066e96"/>
<rect x="166.82" y="143.48" width="8.19" height="5.08" fill="#04509b"/>
<rect x="175.02" y="143.48" width="8.19" height="5.08" fill="#066e96"/>
<rect x="183.21" y="143.48" width="16.39" height="5.08" fill="#04509b"/>
<rect x="199.59" y="143.48" width="16.39" height="5.08" fill="#033294"/>
<rect x="215.98" y="143.48" width="24.58" height="5.08" fill="#021c76"/>
<rect x="240.56" y="143.48" width="8.19" height="5.08" fill="#010e5e"/>
<rect x="248.75" y="143.48" width="8.19" height="5.08" fill="#021c76"/>
<rect x="256.95" y="143.48" width="40.96" height="5.08" fill="#010544"/>
<rect x="306.10" y="143.48" width="8.19" height="5.08" fill="#010130"/>
<rect x="322.49" y="143.48" width="16.39" height="5.08" fill="#010130"/>
<rect x="76.70" y="138.40" width="8.19" height="5.08" fill="#066e96"/>
<rect x="84.89" y="138.40" width="8.19" height="5.08" fill="#249e1e"/>
<rect x="93.09" y="138.40" width="16.39" height="5.08" fill="#18964c"/>
<rect x="109.47" y="138.40" width="32.77" height="5.08" fill="#0a8a7a"/>
<rect x="142.24" y="138.40" width="8.19" height="5.08" fill="#066e96"/>
<rect x="150.44" y="138.40" width="16.39" height="5.08" fill="#04509b"/>
<rect x="166.82" y="138.40" width="16.39" height="5.08" fill="#066e96"/>
<rect x="183.21" y="138.40" width="16.39" height="5.08" fill="#04509b"/>
<rect x="199.59" y="138.40" width="16.39" height="5.08" fill="#033294"/>
<rect x="215.98" y="138.40" width="24.58" height="5.08" fill="#021c76"/>
<rect x="240.56" y="138.40" width="24.58" height="5.08" fill="#010e5e"/>
<rect x="265.14" y="138.40" width="16.39" height="5.08" fill="#010544"/>
<rect x="297.91" y="138.40" width="8.19" height="5.08" fill="#010130"/>
<rect x="322.49" y="138.40" width="8.19" height="5.08" fill="#010130"/>
<rect x="76.70" y="133.32" width="8.19" height="5.08" fill="#0a8a7a"/>
<rect x="84.89" y="133.32" width="8.19" height="5.08" fill="#249e1e"/>
<rect x="93.09" y="133.32" width="16.39" height="5.08" fill="#18964c"/>
<rect x="109.47" y="133.32" width="32.77" height="5.08" fill="#0a8a7a"/>
<rect x="142.24" y="133.32" width="16.39" height="5.08" fill="#04509b"/>
<rect x="158.63" y="133.32" width="8.19" height="5.08" fill="#066e96"/>
<rect x="166.82" y="133.32" width="24.58" height="5.08" fill="#04509b"/>
<rect x="191.40" y="133.32" width="16.39" height="5.08" fill="#033294"/>
<rect x="207.79" y="133.32" width="32.77" height="5.08" fill="#021c76"/>
<rect x="240.56" y="133.32" width="16.39" height="5.08" fill="#010e5e"/>
<rect x="256.95" y="133.32" width="8.19" height="5.08" fill="#010544"/>
<rect x="265.14" y="133.32" width="8.19" height="5.08" fill="#010e5e"/>
<rect x="273.33" y="133.32" width="24.58" height="5.08" fill="#010544"/>
<rect x="297.91" y="133.32" width="16.39" height="5.08" fill="#010130"/>
<rect x="322.49" y="133.32" width="16.39" height="5.08" fill="#010130"/>
<rect x="76.70" y="128.24" width="8.19" height="5.08" fill="#0a8a7a"/>
<rect x="84.89" y="128.24" width="8.19" height="5.08" fill="#249e1e"/>
<rect x="93.09" y="128.24" width="16.39" height="5.08" fill="#18964c"/>
<rect x="109.47" y="128.24" width="32.77" height="5.08" fill="#0a8a7a"/>
<rect x="142.24" y="128.24" width="49.16" height="5.08" fill="#04509b"/>
<rect x="191.40" y="128.24" width="16.39" height="5.08" fill="#033294"/>
<rect x="207.79" y="128.24" width="8.19" height="5.08" fill="#021c76"/>
<rect x="215.98" y="128.24" width="8.19" height="5.08" fill="#010e5e"/>
<rect x="224.17" y="128.24" width="8.19" height="5.08" fill="#021c76"/>
<rect x="232.37" y="128.24" width="24.58" height="5.08" fill="#010e5e"/>
<rect x="256.95" y="128.24" width="32.77" height="5.08" fill="#010544"/>
<rect x="289.72" y="128.24" width="16.39" height="5.08" fill="#010130"/>
<rect x="314.30" y="128.24" width="8.19" height="5.08" fill="#010130"/>
<rect x="76.70" y="123.16" width="40.96" height="5.08" fill="#0a8a7a"/>
<rect x="117.66" y="123.16" width="24.58" height="5.08" fill="#066e96"/>
<rect x="142.24" y="123.16" width="49.16" height="5.08" fill="#04509b"/>
<rect x="191.40" y="123.16" width="16.39" height="5.08" fill="#033294"/>
<rect x="207.79" y="123.16" width="8.19" height="5.08" fill="#021c76"/>
<rect x="215.98" y="123.16" width="8.19" height="5.08" fill="#010e5e"/>
<rect x="224.17" y="123.16" width="8.19" height="5.08" fill="#021c76"/>
<rect x="232.37" y="123.16" width="8.19" height="5.08" fill="#010544"/>
<rect x="240.56" y="123.16" width="16.39" height="5.08" fill="#010e5e"/>
<rect x="256.95" y="123.16" width="8.19" height="5.08" fill="#010544"/>
<rect x="273.33" y="123.16" width="16.39" height="5.08" fill="#010544"/>
<rect x="297.91" y="123.16" width="24.58" height="5.08" fill="#010130"/>
<rect x="76.70" y="118.08" width="40.96" height="5.08" fill="#0a8a7a"/>
<rect x="117.66" y="118.08" width="24.58" height="5.08" fill="#066e96"/>
<rect x="142.24" y="118.08" width="24.58" height="5.08" fill="#04509b"/>
<rect x="166.82" y="118.08" width="8.19" height="5.08" fill="#033294"/>
<rect x="175.02" y="118.08" width="8.19" height="5.08" fill="#04509b"/>
<rect x="183.21" y="118.08" width="8.19" height="5.08" fill="#033294"/>
<rect x="191.40" y="118.08" width="8.19" height="5.08" fill="#021c76"/>
<rect x="199.59" y="118.08" width="8.19" height="5.08" fill="#033294"/>
<rect x="207.79" y="118.08" width="24.58" height="5.08" fill="#021c76"/>
<rect x="232.37" y="118.08" width="8.19" height="5.08" fill="#010e5e"/>
<rect x="240.56" y="118.08" width="16.39" height="5.08" fill="#010544"/>
<rect x="273.33" y="118.08" width="16.39" height="5.08" fill="#010544"/>
<rect x="289.72" y="118.08" width="24.58" height="5.08" fill="#010130"/>
<rect x="76.70" y="113.00" width="8.19" height="5.08" fill="#0a8a7a"/>
<rect x="84.89" y="113.00" width="8.19" height="5.08" fill="#066e96"/>
<rect x="93.09" y="113.00" width="16.39" height="5.08" fill="#0a8a7a"/>
<rect x="109.47" y="113.00" width="32.77" height="5.08" fill="#066e96"/>
<rect x="142.24" y="113.00" width="24.58" height="5.08" fill="#04509b"/>
<rect x="166.82" y="113.00" width="24.58" height="5.08" fill="#033294"/>
<rect x="191.40" y="113.00" width="8.19" height="5.08" fill="#021c76"/>
<rect x="199.59" y="113.00" width="8.19" height="5.08" fill="#033294"/>
<rect x="207.79" y="113.00" width="8.19" height="5.08" fill="#021c76"/>
<rect x="215.98" y="113.00" width="16.39" height="5.08" fill="#010e5e"/>
<rect x="232.37" y="113.00" width="16.39" height="5.08" fill="#010544"/>
<rect x="256.95" y="113.00" width="24.58" height="5.08" fill="#010544"/>
<rect x="289.72" y="113.00" width="8.19" height="5.08" fill="#010130"/>
<rect x="314.30" y="113.00" width="16.39" height="5.08" fill="#010130"/>
<rect x="371.65" y="113.00" width="8.19" height="5.08" fill="#010130"/>
<rect x="76.70" y="107.92" width="8.19" height="5.08" fill="#0a8a7a"/>
<rect x="84.89" y="107.92" width="16.39" height="5.08" fill="#066e96"/>
<rect x="101.28" y="107.92" width="8.19" height="5.08" fill="#0a8a7a"/>
<rect x="109.47" y="107.92" width="32.77" height="5.08" fill="#066e96"/>
<rect x="142.24" y="107.92" width="8.19" height="5.08" fill="#04509b"/>
<rect x="150.44" y="107.92" width="40.96" height="5.08" fill="#033294"/>
<rect x="191.40" y="107.92" width="8.19" height="5.08" fill="#021c76"/>
<rect x="199.59" y="107.92" width="8.19" height="5.08" fill="#033294"/>
<rect x="207.79" y="107.92" width="8.19" height="5.08" fill="#010e5e"/>
<rect x="215.98" y="107.92" width="16.39" height="5.08" fill="#010544"/>
<rect x="232.37" y="107.92" width="16.39" height="5.08" fill="#010e5e"/>
<rect x="248.75" y="107.92" width="32.77" height="5.08" fill="#010544"/>
<rect x="76.70" y="102.84" width="8.19" height="5.08" fill="#18964c"/>
<rect x="84.89" y="102.84" width="16.39" height="5.08" fill="#066e96"/>
<rect x="101.28" y="102.84" width="8.19" height="5.08" fill="#0a8a7a"/>
<rect x="109.47" y="102.84" width="16.39" height="5.08" fill="#066e96"/>
<rect x="125.86" y="102.84" width="8.19" height="5.08" fill="#04509b"/>
<rect x="134.05" y="102.84" width="8.19" height="5.08" fill="#066e96"/>
<rect x="142.24" y="102.84" width="49.16" height="5.08" fill="#033294"/>
<rect x="191.40" y="102.84" width="16.39" height="5.08" fill="#021c76"/>
<rect x="207.79" y="102.84" width="8.19" height="5.08" fill="#010e5e"/>
<rect x="215.98" y="102.84" width="8.19" height="5.08" fill="#021c76"/>
<rect x="224.17" y="102.84" width="65.54" height="5.08" fill="#010544"/>
<rect x="322.49" y="102.84" width="8.19" height="5.08" fill="#010130"/>
<rect x="363.45" y="102.84" width="8.19" height="5.08" fill="#010130"/>
<rect x="76.70" y="97.76" width="8.19" height="5.08" fill="#0a8a7a"/>
<rect x="84.89" y="97.76" width="16.39" height="5.08" fill="#066e96"/>
<rect x="101.28" y="97.76" width="8.19" height="5.08" fill="#0a8a7a"/>
<rect x="109.47" y="97.76" width="32.77" height="5.08" fill="#066e96"/>
<rect x="142.24" y="97.76" width="32.77" height="5.08" fill="#033294"/>
<rect x="175.02" y="97.76" width="40.96" height="5.08" fill="#021c76"/>
<rect x="215.98" y="97.76" width="8.19" height="5.08" fill="#010e5e"/>
<rect x="224.17" y="97.76" width="40.96" height="5.08" fill="#010544"/>
<rect x="273.33" y="97.76" width="8.19" height="5.08" fill="#010130"/>
<rect x="289.72" y="97.76" width="8.19" height="5.08" fill="#010130"/>
<rect x="76.70" y="92.68" width="8.19" height="5.08" fill="#0a8a7a"/>
<rect x="84.89" y="92.68" width="8.19" height="5.08" fill="#066e96"/>
<rect x="93.09" y="92.68" width="8.19" height="5.08" fill="#04509b"/>
<rect x="101.28" y="92.68" width="8.19" height="5.08" fill="#0a8a7a"/>
<rect x="109.47" y="92.68" width="8.19" height="5.08" fill="#04509b"/>
<rect x="117.66" y="92.68" width="16.39" height="5.08" fill="#066e96"/>
<rect x="134.05" y="92.68" width="8.19" height="5.08" fill="#04509b"/>
<rect x="142.24" y="92.68" width="24.58" height="5.08" fill="#033294"/>
<rect x="166.82" y="92.68" width="32.77" height="5.08" fill="#021c76"/>
<rect x="199.59" y="92.68" width="24.58" height="5.08" fill="#010e5e"/>
<rect x="224.17" y="92.68" width="24.58" height="5.08" fill="#010544"/>
<rect x="256.95" y="92.68" width="8.19" height="5.08" fill="#010130"/>
<rect x="289.72" y="92.68" width="8.19" height="5.08" fill="#010130"/>
<rect x="306.10" y="92.68" width="8.19" height="5.08" fill="#010130"/>
<rect x="76.70" y="87.60" width="8.19" height="5.08" fill="#0a8a7a"/>
<rect x="84.89" y="87.60" width="16.39" height="5.08" fill="#04509b"/>
<rect x="101.28" y="87.60" width="8.19" height="5.08" fill="#066e96"/>
<rect x="109.47" y="87.60" width="8.19" height="5.08" fill="#033294"/>
<rect x="117.66" y="87.60" width="8.19" height="5.08" fill="#04509b"/>
<rect x="125.86" y="87.60" width="8.19" height="5.08" fill="#066e96"/>
<rect x="134.05" y="87.60" width="8.19" height="5.08" fill="#04509b"/>
<rect x="142.24" y="87.60" width="16.39" height="5.08" fill="#033294"/>
<rect x="158.63" y="87.60" width="24.58" height="5.08" fill="#021c76"/>
<rect x="183.21" y="87.60" width="40.96" height="5.08" fill="#010e5e"/>
<rect x="224.17" y="87.60" width="32.77" height="5.08" fill="#010544"/>
<rect x="76.70" y="82.52" width="16.39" height="5.08" fill="#066e96"/>
<rect x="93.09" y="82.52" width="8.19" height="5.08" fill="#04509b"/>
<rect x="101.28" y="82.52" width="8.19" height="5.08" fill="#066e96"/>
<rect x="109.47" y="82.52" width="16.39" height="5.08" fill="#04509b"/>
<rect x="125.86" y="82.52" width="8.19" height="5.08" fill="#066e96"/>
<rect x="134.05" y="82.52" width="8.19" height="5.08" fill="#04509b"/>
<rect x="142.24" y="82.52" width="8.19" height="5.08" fill="#021c76"/>
<rect x="150.44" y="82.52" width="8.19" height="5.08" fill="#033294"/>
<rect x="158.63" y="82.52" width="24.58" height="5.08" fill="#021c76"/>
<rect x="183.21" y="82.52" width="8.19" height="5.08" fill="#010e5e"/>
<rect x="191.40" y="82.52" width="16.39" height="5.08" fill="#021c76"/>
<rect x="207.79" y="82.52" width="8.19" height="5.08" fill="#010e5e"/>
<rect x="215.98" y="82.52" width="32.77" height="5.08" fill="#010544"/>
<rect x="273.33" y="82.52" width="24.58" height="5.08" fill="#010130"/>
<rect x="453.58" y="82.52" width="8.19" height="5.08" fill="#010130"/>
<rect x="76.70" y="77.44" width="8.19" height="5.08" fill="#066e96"/>
<rect x="84.89" y="77.44" width="16.39" height="5.08" fill="#04509b"/>
<rect x="101.28" y="77.44" width="8.19" height="5.08" fill="#066e96"/>
<rect x="109.47" y="77.44" width="8.19" height="5.08" fill="#033294"/>
<rect x="117.66" y="77.44" width="24.58" height="5.08" fill="#04509b"/>
<rect x="142.24" y="77.44" width="8.19" height="5.08" fill="#021c76"/>
<rect x="150.44" y="77.44" width="8.19" height="5.08" fill="#033294"/>
<rect x="158.63" y="77.44" width="8.19" height="5.08" fill="#010e5e"/>
<rect x="166.82" y="77.44" width="16.39" height="5.08" fill="#021c76"/>
<rect x="183.21" y="77.44" width="8.19" height="5.08" fill="#010544"/>
<rect x="191.40" y="77.44" width="8.19" height="5.08" fill="#010e5e"/>
<rect x="199.59" y="77.44" width="8.19" height="5.08" fill="#021c76"/>
<rect x="207.79" y="77.44" width="8.19" height="5.08" fill="#010e5e"/>
<rect x="215.98" y="77.44" width="8.19" height="5.08" fill="#010544"/>
<rect x="232.37" y="77.44" width="8.19" height="5.08" fill="#010544"/>
<rect x="248.75" y="77.44" width="8.19" height="5.08" fill="#010544"/>
<rect x="256.95" y="77.44" width="16.39" height="5.08" fill="#010130"/>
<rect x="281.52" y="77.44" width="16.39" height="5.08" fill="#010130"/>
<rect x="76.70" y="72.36" width="8.19" height="5.08" fill="#066e96"/>
<rect x="84.89" y="72.36" width="16.39" height="5.08" fill="#04509b"/>
<rect x="101.28" y="72.36" width="8.19" height="5.08" fill="#066e96"/>
<rect x="109.47" y="72.36" width="8.19" height="5.08" fill="#033294"/>
<rect x="117.66" y="72.36" width="24.58" height="5.08" fill="#04509b"/>
<rect x="142.24" y="72.36" width="8.19" height="5.08" fill="#010e5e"/>
<rect x="150.44" y="72.36" width="8.19" height="5.08" fill="#021c76"/>
<rect x="158.63" y="72.36" width="24.58" height="5.08" fill="#010e5e"/>
<rect x="183.21" y="72.36" width="8.19" height="5.08" fill="#021c76"/>
<rect x="191.40" y="72.36" width="16.39" height="5.08" fill="#010e5e"/>
<rect x="207.79" y="72.36" width="16.39" height="5.08" fill="#010544"/>
<rect x="224.17" y="72.36" width="8.19" height="5.08" fill="#010e5e"/>
<rect x="232.37" y="72.36" width="8.19" height="5.08" fill="#010544"/>
<rect x="76.70" y="67.28" width="8.19" height="5.08" fill="#066e96"/>
<rect x="84.89" y="67.28" width="8.19" height="5.08" fill="#04509b"/>
<rect x="93.09" y="67.28" width="8.19" height="5.08" fill="#033294"/>
<rect x="101.28" y="67.28" width="8.19" height="5.08" fill="#066e96"/>
<rect x="109.47" y="67.28" width="8.19" height="5.08" fill="#033294"/>
<rect x="117.66" y="67.28" width="8.19" height="5.08" fill="#04509b"/>
<rect x="125.86" y="67.28" width="16.39" height="5.08" fill="#033294"/>
<rect x="142.24" y="67.28" width="8.19" height="5.08" fill="#021c76"/>
<rect x="150.44" y="67.28" width="8.19" height="5.08" fill="#033294"/>
<rect x="158.63" y="67.28" width="8.19" height="5.08" fill="#021c76"/>
<rect x="166.82" y="67.28" width="8.19" height="5.08" fill="#010544"/>
<rect x="175.02" y="67.28" width="8.19" height="5.08" fill="#010e5e"/>
<rect x="183.21" y="67.28" width="32.77" height="5.08" fill="#010544"/>
<rect x="224.17" y="67.28" width="8.19" height="5.08" fill="#010e5e"/>
<rect x="232.37" y="67.28" width="16.39" height="5.08" fill="#010544"/>
<rect x="256.95" y="67.28" width="8.19" height="5.08" fill="#010130"/>
<rect x="273.33" y="67.28" width="8.19" height="5.08" fill="#010130"/>
<rect x="76.70" y="62.20" width="16.39" height="5.08" fill="#04509b"/>
<rect x="93.09" y="62.20" width="8.19" height="5.08" fill="#033294"/>
<rect x="101.28" y="62.20" width="8.19" height="5.08" fill="#066e96"/>
<rect x="109.47" y="62.20" width="8.19" height="5.08" fill="#021c76"/>
<rect x="117.66" y="62.20" width="16.39" height="5.08" fill="#033294"/>
<rect x="134.05" y="62.20" width="24.58" height="5.08" fill="#021c76"/>
<rect x="158.63" y="62.20" width="32.77" height="5.08" fill="#010e5e"/>
<rect x="191.40" y="62.20" width="8.19" height="5.08" fill="#021c76"/>
<rect x="207.79" y="62.20" width="16.39" height="5.08" fill="#010544"/>
<rect x="240.56" y="62.20" width="8.19" height="5.08" fill="#010544"/>
<rect x="256.95" y="62.20" width="8.19" height="5.08" fill="#010130"/>
<rect x="76.70" y="57.12" width="16.39" height="5.08" fill="#033294"/>
<rect x="93.09" y="57.12" width="8.19" height="5.08" fill="#021c76"/>
<rect x="101.28" y="57.12" width="8.19" height="5.08" fill="#04509b"/>
<rect x="109.47" y="57.12" width="8.19" height="5.08" fill="#021c76"/>
<rect x="117.66" y="57.12" width="24.58" height="5.08" fill="#033294"/>
<rect x="142.24" y="57.12" width="8.19" height="5.08" fill="#021c76"/>
<rect x="150.44" y="57.12" width="24.58" height="5.08" fill="#010e5e"/>
<rect x="175.02" y="57.12" width="16.39" height="5.08" fill="#010544"/>
<rect x="191.40" y="57.12" width="8.19" height="5.08" fill="#010e5e"/>
<rect x="199.59" y="57.12" width="8.19" height="5.08" fill="#010544"/>
<rect x="215.98" y="57.12" width="8.19" height="5.08" fill="#010544"/>
<rect x="240.56" y="57.12" width="8.19" height="5.08" fill="#010544"/>
<rect x="248.75" y="57.12" width="8.19" height="5.08" fill="#010130"/>
<rect x="273.33" y="57.12" width="8.19" height="5.08" fill="#010130"/>
<rect x="76.70" y="52.04" width="8.19" height="5.08" fill="#021c76"/>
<rect x="84.89" y="52.04" width="8.19" height="5.08" fill="#033294"/>
<rect x="93.09" y="52.04" width="8.19" height="5.08" fill="#021c76"/>
<rect x="101.28" y="52.04" width="8.19" height="5.08" fill="#033294"/>
<rect x="109.47" y="52.04" width="8.19" height="5.08" fill="#021c76"/>
<rect x="117.66" y="52.04" width="16.39" height="5.08" fill="#033294"/>
<rect x="134.05" y="52.04" width="8.19" height="5.08" fill="#021c76"/>
<rect x="142.24" y="52.04" width="24.58" height="5.08" fill="#010e5e"/>
<rect x="166.82" y="52.04" width="24.58" height="5.08" fill="#010544"/>
<rect x="199.59" y="52.04" width="8.19" height="5.08" fill="#010544"/>
<rect x="215.98" y="52.04" width="8.19" height="5.08" fill="#010544"/>
<rect x="281.52" y="52.04" width="8.19" height="5.08" fill="#010130"/>
<rect x="76.70" y="46.96" width="8.19" height="5.08" fill="#021c76"/>
<rect x="84.89" y="46.96" width="8.19" height="5.08" fill="#033294"/>
<rect x="93.09" y="46.96" width="8.19" height="5.08" fill="#021c76"/>
<rect x="101.28" y="46.96" width="8.19" height="5.08" fill="#033294"/>
<rect x="109.47" y="46.96" width="8.19" height="5.08" fill="#021c76"/>
<rect x="117.66" y="46.96" width="8.19" height="5.08" fill="#033294"/>
<rect x="125.86" y="46.96" width="16.39" height="5.08" fill="#021c76"/>
<rect x="142.24" y="46.96" width="16.39" height="5.08" fill="#010e5e"/>
<rect x="158.63" y="46.96" width="49.16" height="5.08" fill="#010544"/>
<rect x="232.37" y="46.96" width="8.19" height="5.08" fill="#010544"/>
<rect x="306.10" y="46.96" width="8.19" height="5.08" fill="#010130"/>
<rect x="76.70" y="41.88" width="8.19" height="5.08" fill="#021c76"/>
<rect x="84.89" y="41.88" width="8.19" height="5.08" fill="#033294"/>
<rect x="93.09" y="41.88" width="8.19" height="5.08" fill="#010e5e"/>
<rect x="101.28" y="41.88" width="8.19" height="5.08" fill="#033294"/>
<rect x="109.47" y="41.88" width="24.58" height="5.08" fill="#021c76"/>
<rect x="134.05" y="41.88" width="8.19" height="5.08" fill="#033294"/>
<rect x="142.24" y="41.88" width="8.19" height="5.08" fill="#010e5e"/>
<rect x="150.44" y="41.88" width="8.19" height="5.08" fill="#010544"/>
<rect x="158.63" y="41.88" width="8.19" height="5.08" fill="#010e5e"/>
<rect x="166.82" y="41.88" width="40.96" height="5.08" fill="#010544"/>
<rect x="215.98" y="41.88" width="8.19" height="5.08" fill="#010544"/>
<rect x="232.37" y="41.88" width="8.19" height="5.08" fill="#010544"/>
<rect x="240.56" y="41.88" width="8.19" height="5.08" fill="#010130"/>
<rect x="265.14" y="41.88" width="8.19" height="5.08" fill="#010130"/>
<rect x="76.70" y="36.80" width="8.19" height="5.08" fill="#033294"/>
<rect x="84.89" y="36.80" width="16.39" height="5.08" fill="#021c76"/>
<rect x="101.28" y="36.80" width="8.19" height="5.08" fill="#033294"/>
<rect x="109.47" y="36.80" width="32.77" height="5.08" fill="#021c76"/>
<rect x="142.24" y="36.80" width="16.39" height="5.08" fill="#010e5e"/>
<rect x="158.63" y="36.80" width="8.19" height="5.08" fill="#010544"/>
<rect x="175.02" y="36.80" width="16.39" height="5.08" fill="#010544"/>
<rect x="199.59" y="36.80" width="8.19" height="5.08" fill="#010544"/>
<rect x="215.98" y="36.80" width="8.19" height="5.08" fill="#010544"/>
<rect x="76.70" y="31.72" width="8.19" height="5.08" fill="#033294"/>
<rect x="84.89" y="31.72" width="16.39" height="5.08" fill="#021c76"/>
<rect x="101.28" y="31.72" width="8.19" height="5.08" fill="#033294"/>
<rect x="109.47" y="31.72" width="16.39" height="5.08" fill="#021c76"/>
<rect x="125.86" y="31.72" width="8.19" height="5.08" fill="#010e5e"/>
<rect x="134.05" y="31.72" width="8.19" height="5.08" fill="#021c76"/>
<rect x="142.24" y="31.72" width="8.19" height="5.08" fill="#010e5e"/>
<rect x="150.44" y="31.72" width="16.39" height="5.08" fill="#010544"/>
<rect x="199.59" y="31.72" width="8.19" height="5.08" fill="#010e5e"/>
<rect x="215.98" y="31.72" width="8.19" height="5.08" fill="#010544"/>
<rect x="232.37" y="31.72" width="8.19" height="5.08" fill="#010130"/>
<rect x="256.95" y="31.72" width="8.19" height="5.08" fill="#010130"/>
<rect x="76.70" y="26.64" width="8.19" height="5.08" fill="#033294"/>
<rect x="84.89" y="26.64" width="16.39" height="5.08" fill="#010e5e"/>
<rect x="101.28" y="26.64" width="16.39" height="5.08" fill="#033294"/>
<rect x="117.66" y="26.64" width="32.77" height="5.08" fill="#021c76"/>
<rect x="150.44" y="26.64" width="16.39" height="5.08" fill="#010544"/>
<rect x="175.02" y="26.64" width="8.19" height="5.08" fill="#010544"/>
<rect x="191.40" y="26.64" width="8.19" height="5.08" fill="#010544"/>
<rect x="199.59" y="26.64" width="8.19" height="5.08" fill="#010e5e"/>
<rect x="215.98" y="26.64" width="8.19" height="5.08" fill="#010544"/>
<rect x="240.56" y="26.64" width="8.19" height="5.08" fill="#010130"/>
<rect x="76.70" y="21.56" width="8.19" height="5.08" fill="#010e5e"/>
<rect x="84.89" y="21.56" width="16.39" height="5.08" fill="#021c76"/>
<rect x="101.28" y="21.56" width="16.39" height="5.08" fill="#033294"/>
<rect x="117.66" y="21.56" width="32.77" height="5.08" fill="#010e5e"/>
<rect x="150.44" y="21.56" width="49.16" height="5.08" fill="#010544"/>
<rect x="224.17" y="21.56" width="8.19" height="5.08" fill="#010544"/>
<rect x="76.70" y="16.48" width="24.58" height="5.08" fill="#021c76"/>
<rect x="101.28" y="16.48" width="8.19" height="5.08" fill="#033294"/>
<rect x="109.47" y="16.48" width="8.19" height="5.08" fill="#021c76"/>
<rect x="117.66" y="16.48" width="16.39" height="5.08" fill="#010e5e"/>
<rect x="134.05" y="16.48" width="8.19" height="5.08" fill="#021c76"/>
<rect x="142.24" y="16.48" width="24.58" height="5.08" fill="#010544"/>
<rect x="183.21" y="16.48" width="16.39" height="5.08" fill="#010544"/>
<rect x="207.79" y="16.48" width="8.19" height="5.08" fill="#010544"/>
<rect x="240.56" y="16.48" width="8.19" height="5.08" fill="#010130"/>
<rect x="76.70" y="11.40" width="8.19" height="5.08" fill="#021c76"/>
<rect x="84.89" y="11.40" width="8.19" height="5.08" fill="#010e5e"/>
<rect x="101.28" y="11.40" width="8.19" height="5.08" fill="#033294"/>
<rect x="109.47" y="11.40" width="8.19" height="5.08" fill="#021c76"/>
<rect x="125.86" y="11.40" width="32.77" height="5.08" fill="#010e5e"/>
<rect x="166.82" y="11.40" width="16.39" height="5.08" fill="#010544"/>
<rect x="207.79" y="11.40" width="16.39" height="5.08" fill="#010544"/>
</g>
<g shape-rendering="crispEdges">
<rect x="546.10" y="373.35" width="28.50" height="19.05" fill="#010130"/>
<rect x="546.10" y="354.30" width="28.50" height="19.05" fill="#010544"/>
<rect x="546.10" y="335.25" width="28.50" height="19.05" fill="#010e5e"/>
<rect x="546.10" y="316.20" width="28.50" height="19.05" fill="#021c76"/>
<rect x="546.10" y="297.15" width="28.50" height="19.05" fill="#033294"/>
<rect x="546.10" y="278.10" width="28.50" height="19.05" fill="#04509b"/>
<rect x="546.10" y="259.05" width="28.50" height="19.05" fill="#066e96"/>
<rect x="546.10" y="240.00" width="28.50" height="19.05" fill="#0a8a7a"/>
<rect x="546.10" y="220.95" width="28.50" height="19.05" fill="#18964c"/>
<rect x="546.10" y="201.90" width="28.50" height="19.05" fill="#249e1e"/>
<rect x="546.10" y="182.85" width="28.50" height="19.05" fill="#40aa14"/>
<rect x="546.10" y="163.80" width="28.50" height="19.05" fill="#70b90a"/>
<rect x="546.10" y="144.75" width="28.50" height="19.05" fill="#94940c"/>
<rect x="546.10" y="125.70" width="28.50" height="19.05" fill="#a4540a"/>
<rect x="546.10" y="106.65" width="28.50" height="19.05" fill="#a82808"/>
<rect x="546.10" y="87.60" width="28.50" height="19.05" fill="#a01604"/>
<rect x="546.10" y="68.55" width="28.50" height="19.05" fill="#940802"/>
<rect x="546.10" y="49.50" width="28.50" height="19.05" fill="#780403"/>
<rect x="546.10" y="30.45" width="28.50" height="19.05" fill="#4e0303"/>
<rect x="546.10" y="11.40" width="28.50" height="19.05" fill="#2a0202"/>
</g>
<line x1="76.70" y1="265.40" x2="281.52" y2="392.40" stroke="#000" stroke-width="2.8" stroke-dasharray="23.7 5.6 21.55 5.6 21.55 5.6 21.55 5.6 21.55 5.6 21.55 5.6 21.55 5.6 21.55 5.6 21.55 5.6 21.55 5.6"/>
<rect x="76.70" y="11.40" width="467.00" height="381.00" fill="none" stroke="#000" stroke-width="1.4"/>
<path d="M76.70 392.40v-9.80 M76.70 11.40v9.80 M86.94 392.40v-4.60 M86.94 11.40v4.60 M97.18 392.40v-4.60 M97.18 11.40v4.60 M107.42 392.40v-4.60 M107.42 11.40v4.60 M117.66 392.40v-4.60 M117.66 11.40v4.60 M127.91 392.40v-9.80 M127.91 11.40v9.80 M138.15 392.40v-4.60 M138.15 11.40v4.60 M148.39 392.40v-4.60 M148.39 11.40v4.60 M158.63 392.40v-4.60 M158.63 11.40v4.60 M168.87 392.40v-4.60 M168.87 11.40v4.60 M179.11 392.40v-9.80 M179.11 11.40v9.80 M189.35 392.40v-4.60 M189.35 11.40v4.60 M199.59 392.40v-4.60 M199.59 11.40v4.60 M209.84 392.40v-4.60 M209.84 11.40v4.60 M220.08 392.40v-4.60 M220.08 11.40v4.60 M230.32 392.40v-9.80 M230.32 11.40v9.80 M240.56 392.40v-4.60 M240.56 11.40v4.60 M250.80 392.40v-4.60 M250.80 11.40v4.60 M261.04 392.40v-4.60 M261.04 11.40v4.60 M271.28 392.40v-4.60 M271.28 11.40v4.60 M281.52 392.40v-9.80 M281.52 11.40v9.80 M291.77 392.40v-4.60 M291.77 11.40v4.60 M302.01 392.40v-4.60 M302.01 11.40v4.60 M312.25 392.40v-4.60 M312.25 11.40v4.60 M322.49 392.40v-4.60 M322.49 11.40v4.60 M332.73 392.40v-9.80 M332.73 11.40v9.80 M342.97 392.40v-4.60 M342.97 11.40v4.60 M353.21 392.40v-4.60 M353.21 11.40v4.60 M363.45 392.40v-4.60 M363.45 11.40v4.60 M373.70 392.40v-4.60 M373.70 11.40v4.60 M383.94 392.40v-9.80 M383.94 11.40v9.80 M394.18 392.40v-4.60 M394.18 11.40v4.60 M404.42 392.40v-4.60 M404.42 11.40v4.60 M414.66 392.40v-4.60 M414.66 11.40v4.60 M424.90 392.40v-4.60 M424.90 11.40v4.60 M435.14 392.40v-9.80 M435.14 11.40v9.80 M445.38 392.40v-4.60 M445.38 11.40v4.60 M455.63 392.40v-4.60 M455.63 11.40v4.60 M465.87 392.40v-4.60 M465.87 11.40v4.60 M476.11 392.40v-4.60 M476.11 11.40v4.60 M486.35 392.40v-9.80 M486.35 11.40v9.80 M496.59 392.40v-4.60 M496.59 11.40v4.60 M506.83 392.40v-4.60 M506.83 11.40v4.60 M517.07 392.40v-4.60 M517.07 11.40v4.60 M527.31 392.40v-4.60 M527.31 11.40v4.60 M537.56 392.40v-9.80 M537.56 11.40v9.80 M76.70 392.40h15.50 M543.70 392.40h-15.50 M76.70 376.52h7.80 M543.70 376.52h-7.80 M76.70 360.65h7.80 M543.70 360.65h-7.80 M76.70 344.77h7.80 M543.70 344.77h-7.80 M76.70 328.90h15.50 M543.70 328.90h-15.50 M76.70 313.02h7.80 M543.70 313.02h-7.80 M76.70 297.15h7.80 M543.70 297.15h-7.80 M76.70 281.27h7.80 M543.70 281.27h-7.80 M76.70 265.40h15.50 M543.70 265.40h-15.50 M76.70 249.52h7.80 M543.70 249.52h-7.80 M76.70 233.65h7.80 M543.70 233.65h-7.80 M76.70 217.77h7.80 M543.70 217.77h-7.80 M76.70 201.90h15.50 M543.70 201.90h-15.50 M76.70 186.02h7.80 M543.70 186.02h-7.80 M76.70 170.15h7.80 M543.70 170.15h-7.80 M76.70 154.27h7.80 M543.70 154.27h-7.80 M76.70 138.40h15.50 M543.70 138.40h-15.50 M76.70 122.52h7.80 M543.70 122.52h-7.80 M76.70 106.65h7.80 M543.70 106.65h-7.80 M76.70 90.77h7.80 M543.70 90.77h-7.80 M76.70 74.90h15.50 M543.70 74.90h-15.50 M76.70 59.02h7.80 M543.70 59.02h-7.80 M76.70 43.15h7.80 M543.70 43.15h-7.80 M76.70 27.27h7.80 M543.70 27.27h-7.80 M76.70 11.40h15.50 M543.70 11.40h-15.50" stroke="#000" stroke-width="1.3" fill="none"/>
<path d="M574.60 392.40h-16.50 M574.60 374.39h-7.80 M574.60 363.85h-7.80 M574.60 356.38h-7.80 M574.60 350.58h-7.80 M574.60 345.84h-7.80 M574.60 341.84h-7.80 M574.60 338.37h-7.80 M574.60 335.31h-7.80 M574.60 332.57h-16.50 M574.60 314.56h-7.80 M574.60 304.02h-7.80 M574.60 296.55h-7.80 M574.60 290.75h-7.80 M574.60 286.01h-7.80 M574.60 282.01h-7.80 M574.60 278.54h-7.80 M574.60 275.48h-7.80 M574.60 272.74h-16.50 M574.60 254.73h-7.80 M574.60 244.19h-7.80 M574.60 236.72h-7.80 M574.60 230.92h-7.80 M574.60 226.18h-7.80 M574.60 222.18h-7.80 M574.60 218.71h-7.80 M574.60 215.65h-7.80 M574.60 212.91h-16.50 M574.60 194.90h-7.80 M574.60 184.36h-7.80 M574.60 176.89h-7.80 M574.60 171.09h-7.80 M574.60 166.35h-7.80 M574.60 162.35h-7.80 M574.60 158.88h-7.80 M574.60 155.82h-7.80 M574.60 153.08h-16.50 M574.60 135.07h-7.80 M574.60 124.53h-7.80 M574.60 117.06h-7.80 M574.60 111.26h-7.80 M574.60 106.52h-7.80 M574.60 102.52h-7.80 M574.60 99.05h-7.80 M574.60 95.99h-7.80 M574.60 93.25h-16.50 M574.60 75.24h-7.80 M574.60 64.70h-7.80 M574.60 57.23h-7.80 M574.60 51.43h-7.80 M574.60 46.69h-7.80 M574.60 42.69h-7.80 M574.60 39.22h-7.80 M574.60 36.16h-7.80 M574.60 33.42h-16.50 M574.60 15.41h-7.80" stroke="#000" stroke-width="1.2" fill="none"/>
<line x1="574.60" y1="11.40" x2="574.60" y2="392.40" stroke="#000" stroke-width="1.2"/>
<text x="582.9" y="399.8" font-size="17.5">1</text>
<text x="582.9" y="340.1" font-size="17.5">10</text>
<text x="582.9" y="281.1" font-size="17.5">10</text>
<text x="602.2" y="272.7" font-size="12.5">2</text>
<text x="582.9" y="221.3" font-size="17.5">10</text>
<text x="602.2" y="212.9" font-size="12.5">3</text>
<text x="582.9" y="161.5" font-size="17.5">10</text>
<text x="602.2" y="153.1" font-size="12.5">4</text>
<text x="582.9" y="101.7" font-size="17.5">10</text>
<text x="602.2" y="93.2" font-size="12.5">5</text>
<text x="582.9" y="41.8" font-size="17.5">10</text>
<text x="602.2" y="33.4" font-size="12.5">6</text>
<text x="76.2" y="410.2" font-size="18.4" text-anchor="middle">0</text>
<text x="127.4" y="410.2" font-size="18.4" text-anchor="middle">1</text>
<text x="178.6" y="410.2" font-size="18.4" text-anchor="middle">2</text>
<text x="229.8" y="410.2" font-size="18.4" text-anchor="middle">3</text>
<text x="281.0" y="410.2" font-size="18.4" text-anchor="middle">4</text>
<text x="332.2" y="410.2" font-size="18.4" text-anchor="middle">5</text>
<text x="383.4" y="410.2" font-size="18.4" text-anchor="middle">6</text>
<text x="434.6" y="410.2" font-size="18.4" text-anchor="middle">7</text>
<text x="485.8" y="410.2" font-size="18.4" text-anchor="middle">8</text>
<text x="537.1" y="410.2" font-size="18.4" text-anchor="middle">9</text>
<text x="72.9" y="398.5" font-size="18" text-anchor="end">0</text>
<text x="72.9" y="335.0" font-size="18" text-anchor="end">2</text>
<text x="72.9" y="271.5" font-size="18" text-anchor="end">4</text>
<text x="72.9" y="208.0" font-size="18" text-anchor="end">6</text>
<text x="72.9" y="144.5" font-size="18" text-anchor="end">8</text>
<text x="72.9" y="81.0" font-size="18" text-anchor="end">10</text>
<text x="72.9" y="17.5" font-size="18" text-anchor="end">12</text>
<text x="447" y="437.8" font-size="23"><tspan font-style="italic">M</tspan><tspan font-size="16.5" dy="7.2">20</tspan><tspan dy="-7.2"> (cm</tspan><tspan font-size="16" dy="-9">2</tspan><tspan dy="9">)</tspan></text>
<text transform="translate(30.9,111.8) rotate(-90)" font-size="24"><tspan font-style="italic">M</tspan><tspan font-size="17" dy="7.2">02</tspan><tspan dy="-7.2"> (cm</tspan><tspan font-size="16.5" dy="-9">2</tspan><tspan dy="9">)</tspan></text>
<text x="247.0" y="306.3" font-size="18.5" font-weight="bold">ALICE</text>
<text x="246.3" y="333.3" font-size="18.5">DPMJET, p–Pb,</text>
<path d="M384.6 327.5 L386.3 326.2 L388.6 337.8 L390.3 317.9 L420.4 317.9" stroke="#000" stroke-width="1.1" fill="none"/>
<text x="393.2" y="333.3" font-size="18.5" font-style="italic">s</text>
<text x="402.6" y="339.2" font-size="12.2">NN</text>
<text x="424.5" y="333.3" font-size="18.7">= 5.02 TeV</text>
<text x="246.8" y="359.6" font-size="18">γ,</text>
<text x="266.4" y="359.6" font-size="18" font-style="italic">E</text>
<text x="280.6" y="369.0" font-size="12.2">clu</text>
<text x="301.4" y="359.6" font-size="18.3">≥ 0.3 GeV</text>
<text x="5.6" y="443.1" font-size="10.6" font-weight="bold" textLength="108.4" lengthAdjust="spacingAndGlyphs" style="font-family:'Liberation Mono',monospace;fill:#878787">ALI-PUB-608874</text>
</svg>
</body></html>
